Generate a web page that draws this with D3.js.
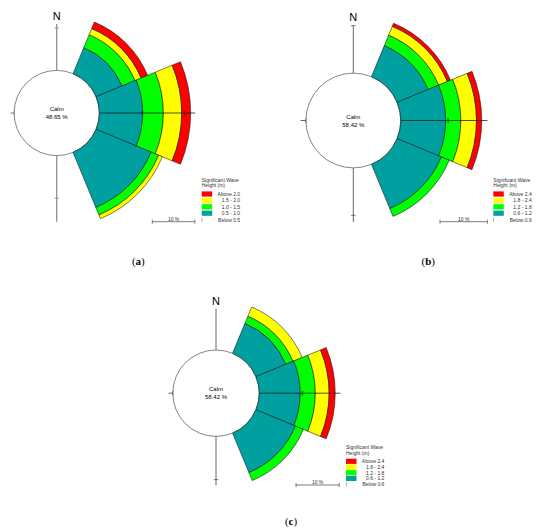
<!DOCTYPE html>
<html>
<head>
<meta charset="utf-8">
<script src="https://cdn.jsdelivr.net/npm/d3@7"></script>
<style>
  body { margin: 0; background: #fff; }
  svg { display: block; font-family: "Liberation Sans", Arial, sans-serif; }
</style>
</head>
<body>
<svg id="chart" width="550" height="532"></svg>
<script>
// wave direction sectors (compass centre, deg) and height classes
var directions = ["NE", "E", "SE"];
var dirAngles = [45, 90, 135];
var classColors = ["#00a0a0", "#00ff00", "#ffff00", "#ff0000"];

var labelsA = ["Above 2.0", "1.5 - 2.0", "1.0 - 1.5", "0.5 - 1.0", "Below 0.5"];
var labelsBC = ["Above 2.4", "1.8 - 2.4", "1.2 - 1.8", "0.6 - 1.2", "Below 0.6"];

var calmA = 48.65, calmB = 58.42, calmC = 58.42;

// frequency (%) per direction, per class (low -> high)
var freqA = [[6.6, 3.3, 1.55, 1.65], [10.2, 4.85, 4.3, 2.1], [14.0, 1.9, 0.95, 0]];
var freqB = [[7.1, 2.4, 2.0, 0.7], [9.5, 3.2, 3.3, 1.1], [10.1, 1.8, 0, 0]];
var freqC = [[7.5, 1.8, 2.3, 0], [9.5, 3.5, 3.2, 1.4], [9.9, 2.0, 0, 0]];

var scaleTicks = [0, 10, 20, 30];

var svg = d3.select("#chart");

function drawRose(p) {
  var g = svg.append("g").attr("transform", "translate(" + p.cx + "," + p.cy + ")");
  var R = p.R;
  var r = d3.scaleLinear().domain([0, 10]).range([R, 2 * R]);
  var rad = Math.PI / 180;

  // calm circle
  g.append("circle")
    .attr("r", R)
    .style("fill", "#fff")
    .style("stroke", "#333")
    .style("stroke-width", 0.6);

  // stacked sectors
  var arc = d3.arc();
  p.freq.forEach(function (vals, i) {
    var cum = d3.cumsum(vals);
    vals.forEach(function (v, j) {
      if (v <= 0) return;
      var inner = j === 0 ? 0 : cum[j - 1];
      g.append("path")
        .attr("d", arc({
          innerRadius: r(inner),
          outerRadius: r(cum[j]),
          startAngle: (dirAngles[i] - 22.5) * rad,
          endAngle: (dirAngles[i] + 22.5) * rad
        }))
        .style("fill", classColors[j])
        .style("stroke", "#111")
        .style("stroke-width", 0.55);
    });
  });

  // axes N, E, S, W
  var axes = [
    {ang: 0, ext: p.ext[0], zero: false},
    {ang: 90, ext: p.ext[1], zero: false},
    {ang: 180, ext: p.ext[2], zero: false},
    {ang: 270, ext: p.ext[3], zero: true}
  ];
  axes.forEach(function (a) {
    var s = Math.sin(a.ang * rad), c = -Math.cos(a.ang * rad);
    g.append("line")
      .attr("x1", s * R).attr("y1", c * R)
      .attr("x2", s * r(a.ext)).attr("y2", c * r(a.ext))
      .style("stroke", a.ang === 90 ? "#222" : p.axisColor)
      .style("stroke-width", a.ang === 90 ? 0.8 : p.axisWidth);
    scaleTicks.filter(function (t) { return t <= a.ext && (t > 0 || a.zero); })
      .forEach(function (t) {
        var px = s * r(t), py = c * r(t);
        g.append("line")
          .attr("x1", px - c * 2.2).attr("y1", py + s * 2.2)
          .attr("x2", px + c * 2.2).attr("y2", py - s * 2.2)
          .style("stroke", a.ang === 90 ? "#222" : p.axisColor)
          .style("stroke-width", 0.8);
      });
  });

  g.append("text")
    .attr("x", 0).attr("y", -r(p.ext[0]) - 4)
    .attr("text-anchor", "middle")
    .style("font-size", "11px")
    .text("N");

  g.append("text")
    .attr("x", 0).attr("y", -4)
    .attr("text-anchor", "middle").attr("dominant-baseline", "central")
    .style("font-size", "6px")
    .text("Calm");
  g.append("text")
    .attr("x", 0).attr("y", 4.2)
    .attr("text-anchor", "middle").attr("dominant-baseline", "central")
    .style("font-size", "6px")
    .text(d3.format(".2f")(p.calm) + " %");

  // legend
  var lg = svg.append("g").attr("transform", "translate(" + p.lx + "," + p.ly + ")");
  lg.append("text").attr("x", 0).attr("y", 0).attr("dominant-baseline", "central")
    .style("font-size", "5px").style("fill", "#333").text("Significant Wave");
  lg.append("text").attr("x", 0).attr("y", 5.4).attr("dominant-baseline", "central")
    .style("font-size", "5px").style("fill", "#333").text("Height (m)");
  var swatch = classColors.slice().reverse().concat(["#fff"]);
  p.labels.forEach(function (lab, k) {
    var y = 14 + k * p.pitch;
    if (k < 4) {
      lg.append("rect")
        .attr("x", 0).attr("y", y - 2.6)
        .attr("width", 10.5).attr("height", 5.2)
        .style("fill", swatch[k]);
    } else {
      lg.append("line")
        .attr("x1", 0.3).attr("x2", 0.3)
        .attr("y1", y - 2.4).attr("y2", y + 2.4)
        .style("stroke", "#666").style("stroke-width", 0.5);
    }
    lg.append("text")
      .attr("x", 38.4).attr("y", y)
      .attr("text-anchor", "end").attr("dominant-baseline", "central")
      .style("font-size", "5px").style("fill", "#333")
      .text(lab);
  });

  // 10 % scale bar
  var sb = svg.append("g").attr("transform", "translate(" + p.sx + "," + p.sy + ")");
  var barLen = r(10) - r(0);
  sb.append("line").attr("x1", 0).attr("x2", barLen).attr("y1", 0).attr("y2", 0)
    .style("stroke", "#444").style("stroke-width", 0.7);
  [0, barLen].forEach(function (x) {
    sb.append("line").attr("x1", x).attr("x2", x).attr("y1", -2).attr("y2", 2)
      .style("stroke", "#444").style("stroke-width", 0.7);
  });
  sb.append("text")
    .attr("x", barLen / 2).attr("y", -0.8)
    .attr("text-anchor", "middle")
    .style("font-size", "5px").style("fill", "#333")
    .text("10 %");

  // panel caption
  var cap = svg.append("text")
    .attr("x", p.capX).attr("y", p.capY)
    .attr("text-anchor", "middle")
    .style("font-family", "'Liberation Serif', 'DejaVu Serif', serif")
    .style("font-size", "11px");
  cap.append("tspan").text("(");
  cap.append("tspan").style("font-weight", "bold").text(p.letter);
  cap.append("tspan").text(")");
}

drawRose({
  cx: 56.7, cy: 113, R: 42.6, freq: freqA, calm: calmA, labels: labelsA,
  ext: [10.9, 22.5, 15.5, 0.8], axisColor: "#888", axisWidth: 1.2,
  lx: 201.7, ly: 180, pitch: 6.4, sx: 152.3, sy: 221.7,
  capX: 138.3, capY: 265, letter: "a"
});
drawRose({
  cx: 353.3, cy: 120.5, R: 47.4, freq: freqB, calm: calmB, labels: labelsBC,
  ext: [10.1, 18.3, 11.4, 1.1], axisColor: "#555", axisWidth: 0.9,
  lx: 493.3, ly: 180, pitch: 6.4, sx: 440, sy: 221.7,
  capX: 428.3, capY: 265, letter: "b"
});
drawRose({
  cx: 216, cy: 393.2, R: 43.2, freq: freqC, calm: calmC, labels: labelsBC,
  ext: [9.6, 18.8, 11.3, 1.0], axisColor: "#555", axisWidth: 0.9,
  lx: 346, ly: 447.3, pitch: 5.7, sx: 296, sy: 485,
  capX: 291, capY: 525, letter: "c"
});
</script>
</body>
</html>
